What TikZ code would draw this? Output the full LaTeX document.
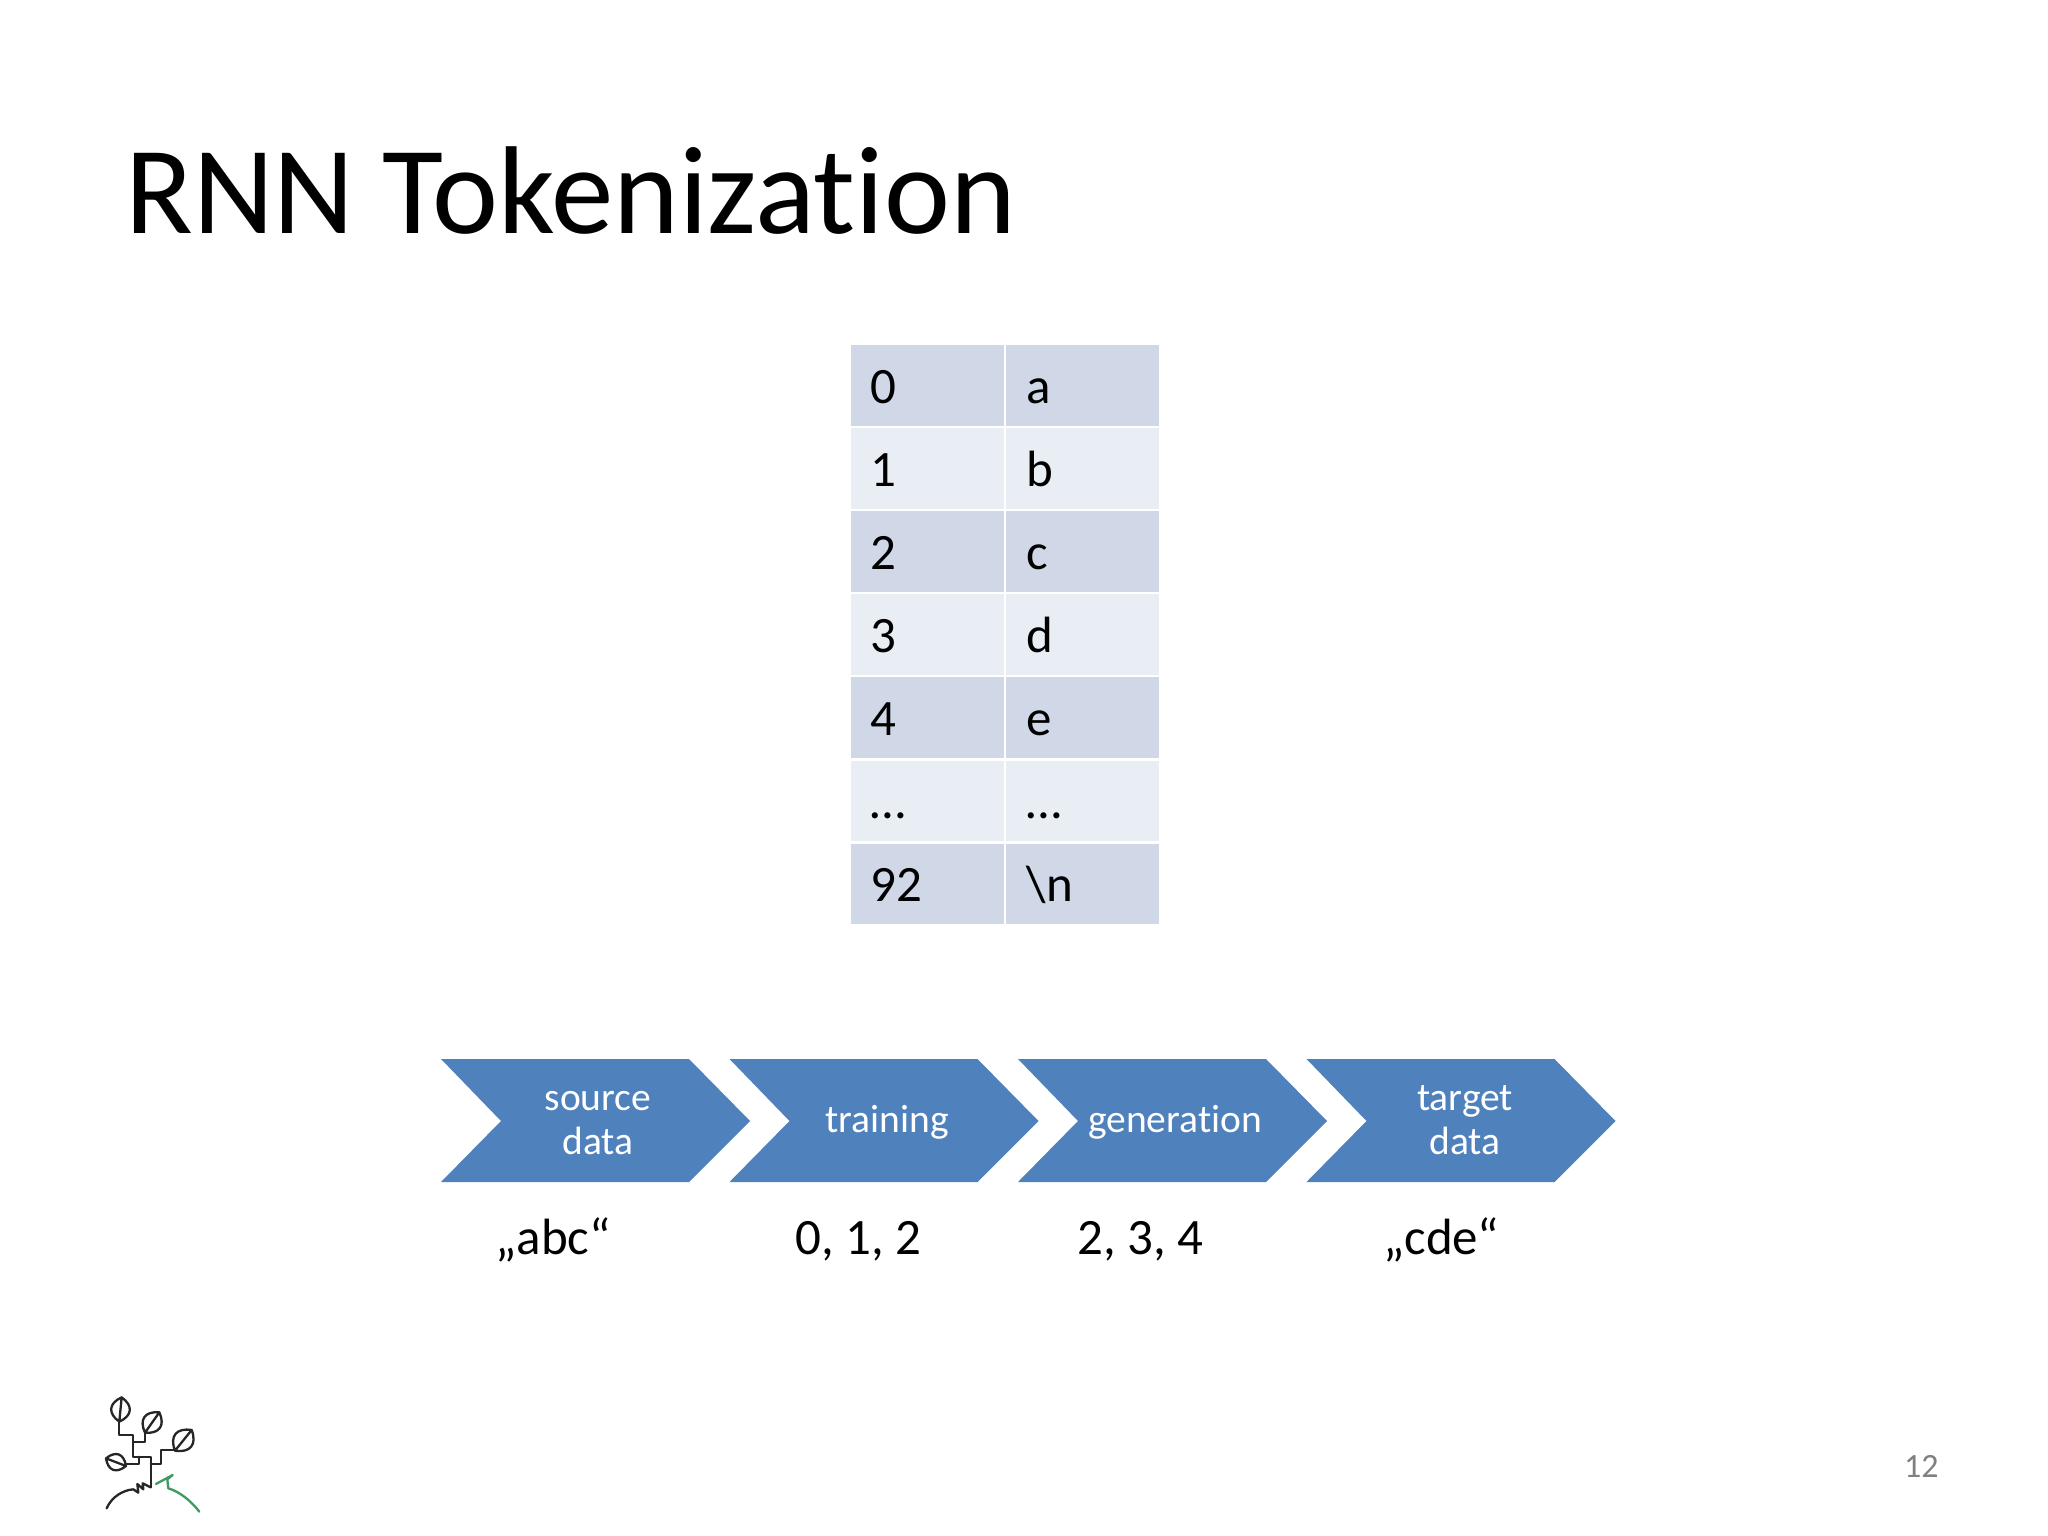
\documentclass[tikz,border=0pt]{standalone}
\usepackage{fontspec}
\setmainfont{Carlito}[Ligatures=NoCommon]
\newcommand{\fsz}[1]{\fontsize{#1}{#1}\selectfont}
\newcommand{\leafdraw}[2]{\draw[logoline] (#1) to[bend left=60,looseness=1.5] (#2) to[bend left=60,looseness=1.5] (#1) -- (#2);}
\tikzset{
  cella/.style={fill=#1,inner sep=0pt,outer sep=0pt,minimum width=152.5pt,minimum height=80.5pt,anchor=north west},
  celltxt/.style={inner sep=0pt,anchor=base west,font=\fsz{51}},
  chevtxt/.style={inner sep=0pt,anchor=base,text=white,font=\fsz{39.5}},
  undertxt/.style={inner sep=0pt,anchor=base west,font=\fsz{51}},
  chev/.style={fill=chevblue},
  logoline/.style={draw=black!85,line width=2.3pt,line join=round,line cap=round},
  logogreen/.style={draw=logogrn,line width=2.3pt,line join=round,line cap=round}
}
\definecolor{chevblue}{HTML}{4F81BD}
\definecolor{rowd}{HTML}{D0D8E8}
\definecolor{rowl}{HTML}{E9EDF4}
\definecolor{logogrn}{HTML}{3E9A5E}
\begin{document}
\begin{tikzpicture}[x=1pt,y=-1pt]
\useasboundingbox (0,0) rectangle (2048,1536);
\fill[white] (0,0) rectangle (2048,1536);
\node[inner sep=0pt,anchor=base west,font=\fsz{125}] (title) at (125,233) {RNN Tokenization};
% table
\foreach \r/\cola/\colb/\shade in {0/0/a/rowd,1/1/b/rowl,2/2/c/rowd,3/3/d/rowl,4/4/e/rowd,5/…/…/rowl,6/92/\textbackslash n/rowd}{
  \node[cella=\shade] (l\r) at (851,345+83.1*\r) {};
  \node[cella=\shade] (r\r) at (1006,345+83.1*\r) {};
  \node[celltxt] (lt\r) at (870.5,403+83.1*\r) {\cola};
  \node[celltxt] (rt\r) at (1026.5,403+83.1*\r) {\colb};
}
% chevrons
\foreach \i in {0,1,2,3}{
  \fill[chev,xshift=288.5*\i] (441,1059) -- (689,1059) -- (750,1121) -- (689,1182) -- (441,1182) -- (501,1121) -- cycle;
}
\node[chevtxt] (c1a) at (598,1110) {source};
\node[chevtxt] (c1b) at (598,1154) {data};
\node[chevtxt] (c2) at (887,1132) {training};
\node[chevtxt] (c3) at (1175,1132) {generation};
\node[chevtxt] (c4a) at (1465,1110) {target};
\node[chevtxt] (c4b) at (1465,1154) {data};
\node[undertxt] (u1) at (495,1254) {„abc“};
\node[undertxt] (u2) at (795,1254) {0, 1, 2};
\node[undertxt] (u3) at (1077,1254) {2, 3, 4};
\node[undertxt] (u4) at (1383,1254) {„cde“};
\node[inner sep=0pt,anchor=base west,font=\fsz{34},text=black!50] (pg) at (1904,1477) {12};
% logo
\begin{scope}[shift={(80,1380)},x=0.3333pt,y=-0.3333pt]
\draw[logoline] (212,322) -- (212,230) -- (160,230) -- (160,165) -- (118,165) -- (118,125);
\draw[logoline] (160,187) -- (195,187) -- (195,158);
\draw[logoline] (178,230) -- (178,253) -- (138,253);
\draw[logoline] (212,253) -- (242,253) -- (242,210) -- (285,210);
\leafdraw{118,125}{125,52}
\leafdraw{195,158}{238,97}
\leafdraw{285,212}{335,150}
\leafdraw{138,258}{78,235}
\draw[logoline] (80,385) .. controls (95,350) and (130,330) .. (160,328) -- (175,338) -- (172,312) -- (190,328) -- (188,310) -- (212,322);
\draw[logogreen] (228,312) -- (278,285) -- (262,298) -- (265,325) .. controls (300,335) and (335,365) .. (358,395);
\end{scope}
\end{tikzpicture}
\end{document}
